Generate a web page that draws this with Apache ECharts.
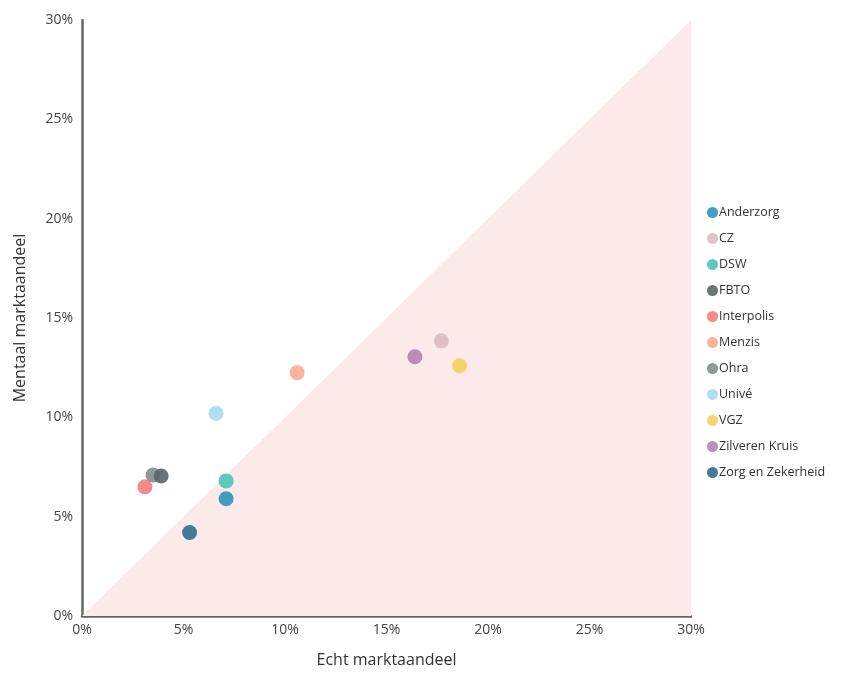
<!DOCTYPE html>
<html>
<head>
<meta charset="utf-8">
<script src="https://cdn.jsdelivr.net/npm/echarts@6/dist/echarts.min.js"></script>
<style>
  html, body { margin: 0; padding: 0; background: #fff; }
  #main { width: 852px; height: 681px; }
</style>
</head>
<body>
<div id="main"></div>
<script>
var myChart = echarts.init(document.getElementById("main"));

// verzekeraars, echt vs mentaal marktaandeel (%)
var names = ["Anderzorg", "CZ", "DSW", "FBTO", "Interpolis", "Menzis", "Ohra", "Univé", "VGZ", "Zilveren Kruis", "Zorg en Zekerheid"];
var echt = [7.1, 17.7, 7.1, 3.9, 3.1, 10.6, 3.5, 6.6, 18.6, 16.4, 5.3];
var mentaal = [5.9, 13.85, 6.8, 7.05, 6.5, 12.25, 7.1, 10.2, 12.6, 13.05, 4.2];
var colors = ["#2f93bd", "#dcbcc1", "#4cc4b8", "#5a6668", "#f87d7f", "#fcab8e", "#858e8d", "#a6dbee", "#f3d05c", "#b383b1", "#2d6f88"];
var diagonal = [[0, 0], [30, 30]];

var series = [{
    name: 'diagonaal',
    type: 'line',
    data: diagonal,
    symbol: 'none',
    silent: true,
    lineStyle: { width: 0 },
    areaStyle: { color: '#fce9e9', opacity: 1 },
    z: 1
}];
names.forEach(function (n, i) {
    series.push({
        name: n,
        type: 'scatter',
        symbolSize: 15,
        itemStyle: { color: colors[i], opacity: 0.9 },
        data: [[echt[i], mentaal[i]]],
        z: n === 'FBTO' ? 4 : 3
    });
});

var pct = function (v) { return v + '%'; };
var axisText = { color: '#444', fontSize: 14, fontFamily: 'Open Sans' };

var option = {
    textStyle: { fontFamily: 'Open Sans' },
    grid: { left: 82, right: 161, top: 20, bottom: 65 },
    legend: {
        data: names,
        orient: 'vertical',
        left: 702,
        top: 201,
        itemGap: 13,
        itemWidth: 11,
        itemHeight: 11,
        icon: 'circle',
        textStyle: { color: '#333', fontSize: 12.5, padding: [0, 0, 0, -4] }
    },
    xAxis: {
        type: 'value',
        min: 0, max: 30, interval: 5,
        name: 'Echt marktaandeel',
        nameLocation: 'middle',
        nameGap: 36,
        nameTextStyle: { color: '#333', fontSize: 16 },
        axisLine: { show: true, lineStyle: { color: '#666', width: 2.5 } },
        axisTick: { show: false },
        splitLine: { show: false },
        axisLabel: Object.assign({ formatter: pct, margin: 7 }, axisText)
    },
    yAxis: {
        type: 'value',
        min: 0, max: 30, interval: 5,
        name: 'Mentaal marktaandeel',
        nameLocation: 'middle',
        nameGap: 54,
        nameTextStyle: { color: '#333', fontSize: 16 },
        axisLine: { show: true, lineStyle: { color: '#666', width: 2.5 } },
        axisTick: { show: false },
        splitLine: { show: false },
        axisLabel: Object.assign({ formatter: pct, margin: 9 }, axisText)
    },
    series: series
};
myChart.setOption(option);
</script>
</body>
</html>
